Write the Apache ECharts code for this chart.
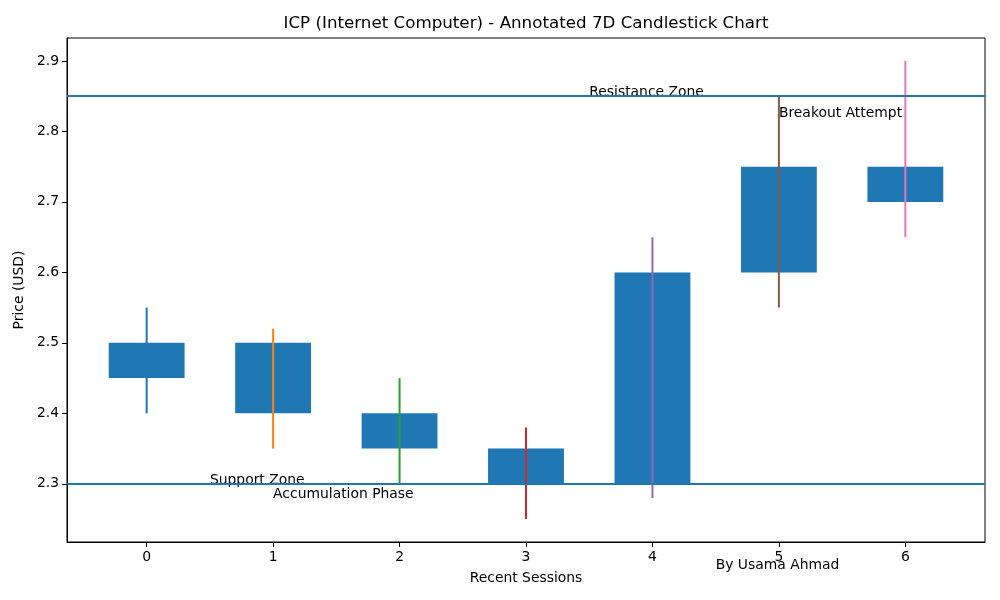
<!DOCTYPE html>
<html>
<head>
<meta charset="utf-8">
<script src="https://cdn.jsdelivr.net/npm/echarts@6/dist/echarts.min.js"></script>
<style>html,body{margin:0;padding:0;background:#fff}#c{width:1000px;height:600px}</style>
</head>
<body>
<div id="c"></div>
<script>
var sessions = [0, 1, 2, 3, 4, 5, 6];
var opens  = [2.45, 2.50, 2.40, 2.35, 2.30, 2.60, 2.70];
var closes = [2.50, 2.40, 2.35, 2.30, 2.60, 2.75, 2.75];
var lows   = [2.40, 2.35, 2.30, 2.25, 2.28, 2.55, 2.65];
var highs  = [2.55, 2.52, 2.45, 2.38, 2.65, 2.85, 2.90];
var wickColors = ['#1f77b4','#ff7f0e','#2ca02c','#d62728','#9467bd','#8c564b','#e377c2'];
var xTicks = [0, 1, 2, 3, 4, 5, 6];
var yTicks = [2.3, 2.4, 2.5, 2.6, 2.7, 2.8, 2.9];
var levelValues = [2.85, 2.30];
var noteTexts = ['Resistance Zone', 'Support Zone', 'Breakout Attempt', 'Accumulation Phase', 'By Usama Ahmad'];
var noteX = [3.5, 0.5, 5, 1, 4.5];
var noteY = [2.85, 2.30, 2.82, 2.28, 2.18];

var FONT = 'DejaVu Sans';
var chart = echarts.init(document.getElementById('c'), null, {renderer: 'canvas'});

var candleData = sessions.map(function (s, i) { return [s, opens[i], closes[i], lows[i], highs[i], i]; });
var noteData = noteTexts.map(function (t, i) { return [noteX[i], noteY[i], i]; });

chart.setOption({
  animation: false,
  backgroundColor: '#fff',
  graphic: [{
    type: 'text', x: 526, y: 24,
    style: {text: 'ICP (Internet Computer) - Annotated 7D Candlestick Chart', font: '16.7px ' + FONT, fill: '#000', textAlign: 'center', textVerticalAlign: 'middle'}
  }],
  grid: {left: 67, right: 15, top: 38, bottom: 58, show: true, borderColor: '#000', borderWidth: 1, backgroundColor: 'transparent'},
  xAxis: {
    type: 'value', min: -0.63, max: 6.63,
    name: 'Recent Sessions', nameLocation: 'middle', nameGap: 29,
    nameTextStyle: {fontFamily: FONT, fontSize: 13.9, color: '#000'},
    axisLine: {show: true, onZero: false, lineStyle: {color: '#000', width: 1}},
    axisTick: {show: true, length: 5, lineStyle: {color: '#000'}, customValues: xTicks},
    axisLabel: {fontFamily: FONT, fontSize: 13.9, color: '#000', margin: 8, customValues: xTicks, formatter: function (v) { return String(Math.round(v)); }},
    splitLine: {show: false}
  },
  yAxis: {
    type: 'value', min: 2.2175, max: 2.9325,
    name: 'Price (USD)', nameLocation: 'middle', nameGap: 37, nameRotate: 90,
    nameTextStyle: {fontFamily: FONT, fontSize: 13.9, color: '#000'},
    axisLine: {show: true, onZero: false, lineStyle: {color: '#000', width: 1}},
    axisTick: {show: true, length: 5, lineStyle: {color: '#000'}, customValues: yTicks},
    axisLabel: {fontFamily: FONT, fontSize: 13.9, color: '#000', margin: 8, customValues: yTicks, formatter: function (v) { return v.toFixed(1); }},
    splitLine: {show: false}
  },
  series: [{
    type: 'custom',
    z: 2,
    data: candleData,
    renderItem: function (params, api) {
      var x = api.value(0);
      var o = api.value(1), c = api.value(2), lo = api.value(3), hi = api.value(4);
      var idx = api.value(5);
      var p1 = api.coord([x - 0.3, Math.max(o, c)]);
      var p2 = api.coord([x + 0.3, Math.min(o, c)]);
      var w1 = api.coord([x, hi]);
      var w2 = api.coord([x, lo]);
      return {
        type: 'group',
        children: [
          {type: 'rect', shape: {x: p1[0], y: p1[1], width: p2[0] - p1[0], height: p2[1] - p1[1]}, style: {fill: '#1f77b4', stroke: null, lineWidth: 0}},
          {type: 'line', shape: {x1: w1[0], y1: w1[1], x2: w2[0], y2: w2[1]}, style: {stroke: wickColors[idx], lineWidth: 2}}
        ]
      };
    }
  }, {
    type: 'line',
    data: [],
    z: 3,
    markLine: {
      silent: true,
      symbol: 'none',
      animation: false,
      label: {show: false},
      lineStyle: {color: '#1f77b4', width: 2, type: 'solid', opacity: 1},
      emphasis: {disabled: true},
      data: levelValues.map(function (v) { return {yAxis: v}; })
    }
  }, {
    type: 'custom',
    z: 4,
    clip: false,
    data: noteData,
    renderItem: function (params, api) {
      var p = api.coord([api.value(0), api.value(1)]);
      return {
        type: 'text', x: p[0], y: p[1] - 3.5,
        style: {text: noteTexts[api.value(2)], font: '13.9px ' + FONT, fill: '#000', textAlign: 'left', textVerticalAlign: 'middle'}
      };
    }
  }]
});
</script>
</body>
</html>
